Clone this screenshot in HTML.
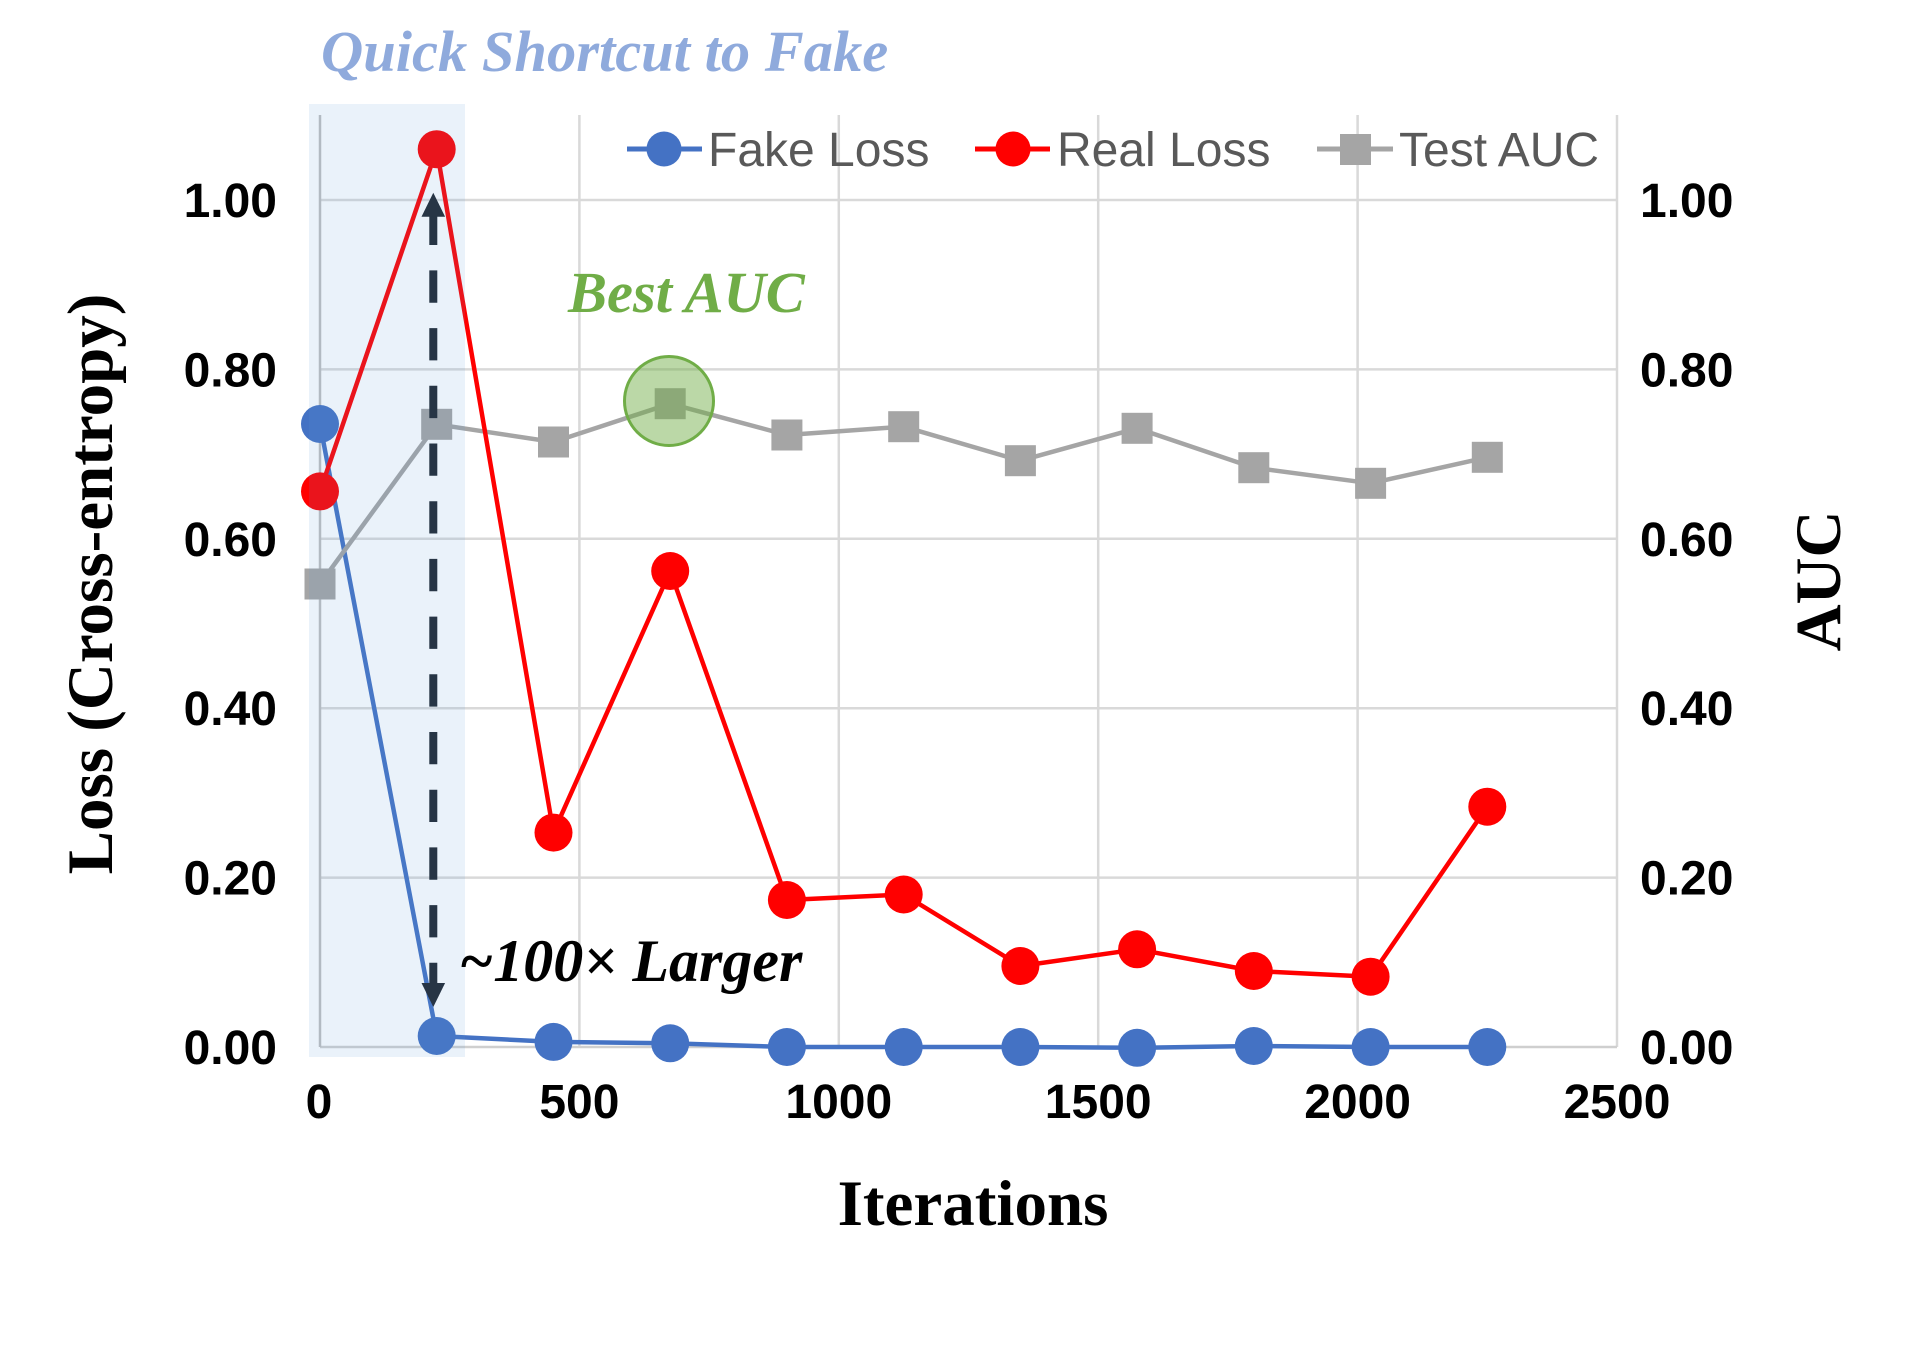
<!DOCTYPE html>
<html>
<head>
<meta charset="utf-8">
<style>
  html,body{margin:0;padding:0;background:#ffffff;}
  svg{display:block;}
  .tick{font-family:"Liberation Sans",Arial,sans-serif;font-weight:bold;font-size:48px;fill:#000;}
  .leg{font-family:"Liberation Sans",Arial,sans-serif;font-size:48px;fill:#595959;}
  .ttl{font-family:"Liberation Serif","Times New Roman",serif;font-weight:bold;font-size:65px;fill:#000;}
  .ann{font-family:"Liberation Serif","Times New Roman",serif;font-weight:bold;font-style:italic;}
</style>
</head>
<body>
<svg width="1912" height="1368" viewBox="0 0 1912 1368" xmlns="http://www.w3.org/2000/svg">
  <rect x="0" y="0" width="1912" height="1368" fill="#ffffff"/>

  <!-- horizontal gridlines -->
  <g stroke="#D9D9D9" stroke-width="2.5">
    <line x1="320" y1="877.6" x2="1617" y2="877.6"/>
    <line x1="320" y1="708.2" x2="1617" y2="708.2"/>
    <line x1="320" y1="538.8" x2="1617" y2="538.8"/>
    <line x1="320" y1="369.4" x2="1617" y2="369.4"/>
    <line x1="320" y1="200" x2="1617" y2="200"/>
    <!-- vertical gridlines -->
    <line x1="579.4" y1="115" x2="579.4" y2="1047"/>
    <line x1="838.8" y1="115" x2="838.8" y2="1047"/>
    <line x1="1098.2" y1="115" x2="1098.2" y2="1047"/>
    <line x1="1357.6" y1="115" x2="1357.6" y2="1047"/>
    <line x1="1617" y1="115" x2="1617" y2="1047"/>
  </g>
  <line x1="320" y1="1047" x2="1617" y2="1047" stroke="#CFCFCF" stroke-width="2.5"/>
  <line x1="320" y1="115" x2="320" y2="1047" stroke="#BFBFBF" stroke-width="2.5"/>

  <!-- Fake Loss (blue) -->
  <polyline fill="none" stroke="#4472C4" stroke-width="4.5" stroke-linejoin="round"
    points="320,424 436.7,1036 553.5,1041.9 670.2,1043.3 786.9,1047 903.7,1047 1020.4,1047 1137.1,1047.8 1253.8,1046 1370.6,1047 1487.3,1047"/>
  <g fill="#4472C4">
    <circle cx="320" cy="424" r="19"/>
    <circle cx="436.7" cy="1036" r="19"/>
    <circle cx="553.5" cy="1041.9" r="19"/>
    <circle cx="670.2" cy="1043.3" r="19"/>
    <circle cx="786.9" cy="1047" r="19"/>
    <circle cx="903.7" cy="1047" r="19"/>
    <circle cx="1020.4" cy="1047" r="19"/>
    <circle cx="1137.1" cy="1047.8" r="19"/>
    <circle cx="1253.8" cy="1046" r="19"/>
    <circle cx="1370.6" cy="1047" r="19"/>
    <circle cx="1487.3" cy="1047" r="19"/>
  </g>

  <!-- Test AUC (gray) -->
  <polyline fill="none" stroke="#A5A5A5" stroke-width="4.5" stroke-linejoin="round"
    points="320,584 436.7,424.3 553.5,442 670.2,403.7 786.9,435 903.7,426.7 1020.4,460.7 1137.1,428.3 1253.8,467.7 1370.6,483.3 1487.3,457.3"/>
  <g fill="#A5A5A5">
    <rect x="304.5" y="568.5" width="31" height="31"/>
    <rect x="421.2" y="408.8" width="31" height="31"/>
    <rect x="538" y="426.5" width="31" height="31"/>
    <rect x="654.7" y="388.2" width="31" height="31"/>
    <rect x="771.4" y="419.5" width="31" height="31"/>
    <rect x="888.2" y="411.2" width="31" height="31"/>
    <rect x="1004.9" y="445.2" width="31" height="31"/>
    <rect x="1121.6" y="412.8" width="31" height="31"/>
    <rect x="1238.3" y="452.2" width="31" height="31"/>
    <rect x="1355.1" y="467.8" width="31" height="31"/>
    <rect x="1471.8" y="441.8" width="31" height="31"/>
  </g>

  <!-- Real Loss (red) -->
  <polyline fill="none" stroke="#FF0000" stroke-width="4.5" stroke-linejoin="round"
    points="320,491.4 436.7,149.2 553.5,832.6 670.2,571 786.9,900 903.7,894.5 1020.4,966 1137.1,949.3 1253.8,971 1370.6,976.7 1487.3,806.7"/>
  <g fill="#FF0000">
    <circle cx="320" cy="491.4" r="19"/>
    <circle cx="436.7" cy="149.2" r="19"/>
    <circle cx="553.5" cy="832.6" r="19"/>
    <circle cx="670.2" cy="571" r="19"/>
    <circle cx="786.9" cy="900" r="19"/>
    <circle cx="903.7" cy="894.5" r="19"/>
    <circle cx="1020.4" cy="966" r="19"/>
    <circle cx="1137.1" cy="949.3" r="19"/>
    <circle cx="1253.8" cy="971" r="19"/>
    <circle cx="1370.6" cy="976.7" r="19"/>
    <circle cx="1487.3" cy="806.7" r="19"/>
  </g>

  <!-- Best AUC highlight circle -->
  <circle cx="669" cy="401" r="44.5" fill="rgba(112,173,71,0.48)" stroke="#70AD47" stroke-width="3"/>

  <!-- dashed double arrow -->
  <line x1="433.3" y1="212.7" x2="433.3" y2="983" stroke="#1F2630" stroke-width="8" stroke-dasharray="32.3 25.4"/>
  <polygon points="433.3,192.7 421.5,216.7 445.1,216.7" fill="#1F2630"/>
  <polygon points="433.3,1007 421.5,983 445.1,983" fill="#1F2630"/>

  <!-- shaded region overlay -->
  <rect x="309" y="104" width="156" height="953" fill="rgba(91,155,213,0.13)"/>

  <!-- left tick labels -->
  <g class="tick" text-anchor="end">
    <text x="277" y="1064">0.00</text>
    <text x="277" y="894.6">0.20</text>
    <text x="277" y="725.2">0.40</text>
    <text x="277" y="555.8">0.60</text>
    <text x="277" y="386.4">0.80</text>
    <text x="277" y="217">1.00</text>
  </g>
  <!-- right tick labels -->
  <g class="tick" text-anchor="start">
    <text x="1640" y="1064">0.00</text>
    <text x="1640" y="894.6">0.20</text>
    <text x="1640" y="725.2">0.40</text>
    <text x="1640" y="555.8">0.60</text>
    <text x="1640" y="386.4">0.80</text>
    <text x="1640" y="217">1.00</text>
  </g>
  <!-- x tick labels -->
  <g class="tick" text-anchor="middle">
    <text x="319" y="1118">0</text>
    <text x="579.4" y="1118">500</text>
    <text x="838.8" y="1118">1000</text>
    <text x="1098.2" y="1118">1500</text>
    <text x="1357.6" y="1118">2000</text>
    <text x="1617" y="1118">2500</text>
  </g>

  <!-- axis titles -->
  <text class="ttl" x="973" y="1225" text-anchor="middle">Iterations</text>
  <text class="ttl" transform="translate(112,584) rotate(-90)" text-anchor="middle">Loss (Cross-entropy)</text>
  <text class="ttl" transform="translate(1840,581) rotate(-90)" text-anchor="middle">AUC</text>

  <!-- legend -->
  <line x1="627" y1="149" x2="702" y2="149" stroke="#4472C4" stroke-width="5"/>
  <circle cx="664" cy="149" r="17.5" fill="#4472C4"/>
  <text class="leg" x="708" y="166">Fake Loss</text>
  <line x1="975" y1="149" x2="1050" y2="149" stroke="#FF0000" stroke-width="5"/>
  <circle cx="1013" cy="149" r="17.5" fill="#FF0000"/>
  <text class="leg" x="1057" y="166">Real Loss</text>
  <line x1="1317" y1="149" x2="1393" y2="149" stroke="#A5A5A5" stroke-width="5"/>
  <rect x="1340" y="134" width="31" height="31" fill="#A5A5A5"/>
  <text class="leg" x="1399" y="166">Test AUC</text>

  <!-- annotations -->
  <text class="ann" x="321" y="71" font-size="58.5" fill="#8FAADC">Quick Shortcut to Fake</text>
  <text class="ann" x="568" y="312" font-size="58.5" fill="#70AD47">Best AUC</text>
  <text class="ann" x="459" y="981" font-size="60" fill="#000">~100× Larger</text>
</svg>
</body>
</html>
